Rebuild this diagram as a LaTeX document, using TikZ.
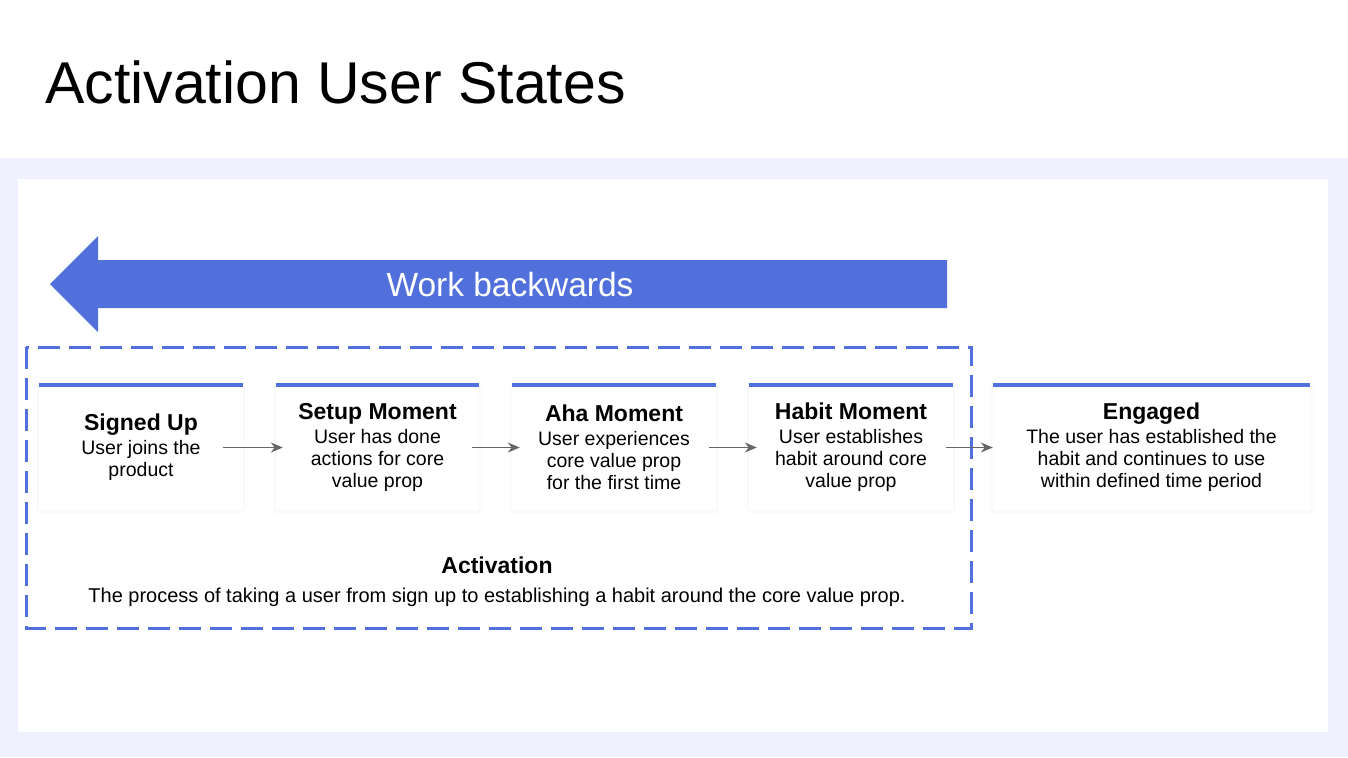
\documentclass[tikz,border=0pt]{standalone}
\usepackage{fontspec}
\setmainfont{Liberation Sans}
\usetikzlibrary{arrows.meta,shadows}

\definecolor{bandblue}{HTML}{EFF1FE}
\definecolor{actblue}{HTML}{5170DB}
\definecolor{flowgray}{HTML}{666666}

\tikzset{
    statebox/.style={fill=white, inner sep=0pt, minimum height=125pt,
        align=center, font=\fontsize{19.5}{22}\selectfont,
        drop shadow={shadow xshift=0pt, shadow yshift=-1.5pt, shadow scale=1.02, opacity=0.04}},
    topbar/.style={draw=actblue, line width=3.5pt},
    flow/.style={draw=flowgray, line width=1.4pt, -{Stealth[length=12pt,width=10pt]}},
    statetitle/.style={font=\fontsize{23}{24}\selectfont\bfseries}
}
\newcommand{\stitle}[1]{{\fontsize{23}{24}\selectfont\bfseries #1}\\[2pt]}

\begin{document}
\begin{tikzpicture}[x=1pt, y=-1pt]
            \useasboundingbox (0, 0) rectangle (1348, 757);

            %%background
            \fill[white] (0, 0) rectangle (1348, 757);
            \fill[bandblue] (0, 158) rectangle (1348, 757);
            \fill[white] (18, 179) rectangle (1328, 732);

            \node[anchor=base west, inner sep=0pt, font=\fontsize{59}{64}\selectfont] (title) at (45, 103){Activation User States};

            %%work backwards arrow
            \fill[actblue] (50, 284) -- (98, 236) -- (98, 260) -- (947, 260)
                -- (947, 308) -- (98, 308) -- (98, 332) -- cycle;
                \node[white, font=\fontsize{33.5}{36}\selectfont] (back) at (510, 285){Work backwards};

            %%activation frame
            \draw[actblue, line width=3pt, dash pattern=on 22pt off 9pt] (26, 347) rectangle (971, 628);

            %%states
            \node[statebox, minimum width=204pt] (signed) at (141, 447.5){\stitle{Signed Up}User joins the\\product};
                \draw[topbar] (signed.north west) to (signed.north east);
            \node[statebox, minimum width=203pt] (setup) at (377.5, 447.5){\stitle{Setup Moment}User has done\\actions for core\\value prop};
                \draw[topbar] (setup.north west) to (setup.north east);
            \node[statebox, minimum width=204pt] (aha) at (614, 447.5){\stitle{Aha Moment}User experiences\\core value prop\\for the first time};
                \draw[topbar] (aha.north west) to (aha.north east);
            \node[statebox, minimum width=204pt] (habit) at (851, 447.5){\stitle{Habit Moment}User establishes\\habit around core\\value prop};
                \draw[topbar] (habit.north west) to (habit.north east);
            \node[statebox, minimum width=317pt] (engaged) at (1151.5, 447.5){\stitle{Engaged}The user has established the\\habit and continues to use\\within defined time period};
                \draw[topbar] (engaged.north west) to (engaged.north east);

            %%flow
            \draw[flow] ([xshift=-20pt]signed.east) to ([xshift=7pt]setup.west);
            \draw[flow] ([xshift=-7pt]setup.east) to ([xshift=8pt]aha.west);
            \draw[flow] ([xshift=-7pt]aha.east) to ([xshift=8pt]habit.west);
            \draw[flow] ([xshift=-7pt]habit.east) to (engaged.west);

            %%caption
            \node[statetitle] (acttitle) at (497, 565){Activation};
            \node[font=\fontsize{20}{22}\selectfont] (actdesc) at (497, 597){The process of taking a user from sign up to establishing a habit around the core value prop.};

\end{tikzpicture}
\end{document}
